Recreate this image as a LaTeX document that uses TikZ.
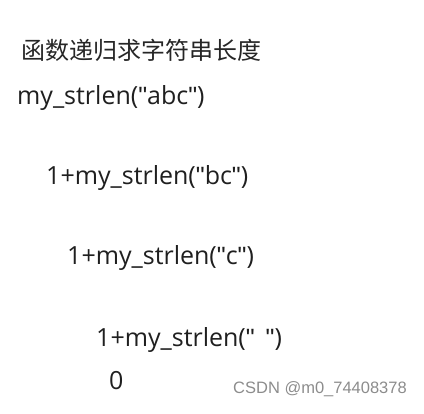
\documentclass[tikz,border=0pt]{standalone}
\usepackage{fontspec}
\setmainfont{Open Sans}[Ligatures=ResetAll]
\newfontfamily\cjk{Noto Sans CJK SC}
\newfontfamily\wm{Liberation Sans}
\newfontfamily\qf{Liberation Sans}
\newcommand{\dq}{{\qf\char"22\relax}}
\begin{document}
\begin{tikzpicture}[x=1pt,y=-1pt,
  code/.style={anchor=west,inner sep=0pt,font=\fontsize{25}{29}\selectfont,text=black!88},
  title/.style={anchor=west,inner sep=0pt,font=\cjk\fontsize{24}{28}\selectfont,text=black!85},
  wmark/.style={anchor=west,inner sep=0pt,font=\wm\fontsize{16.5}{19}\selectfont,text=black!45}]
\useasboundingbox (0,0) rectangle (424,414);
\node[title] (t) at (21,50) {函数递归求字符串长度};
\node[code] (l1) at (17,98) {my\_strlen(\dq abc\dq)};
\node[code] (l2) at (46,178) {1+my\_strlen(\dq bc\dq)};
\node[code] (l3) at (67,258) {1+my\_strlen(\dq c\dq)};
\node[code] (l4) at (96,340) {1+my\_strlen(\dq\hspace{11pt}\dq)};
\node[code] (l5) at (109,381) {0};
\node[wmark] (w) at (233,389) {CSDN @m0\_74408378};
\end{tikzpicture}
\end{document}
